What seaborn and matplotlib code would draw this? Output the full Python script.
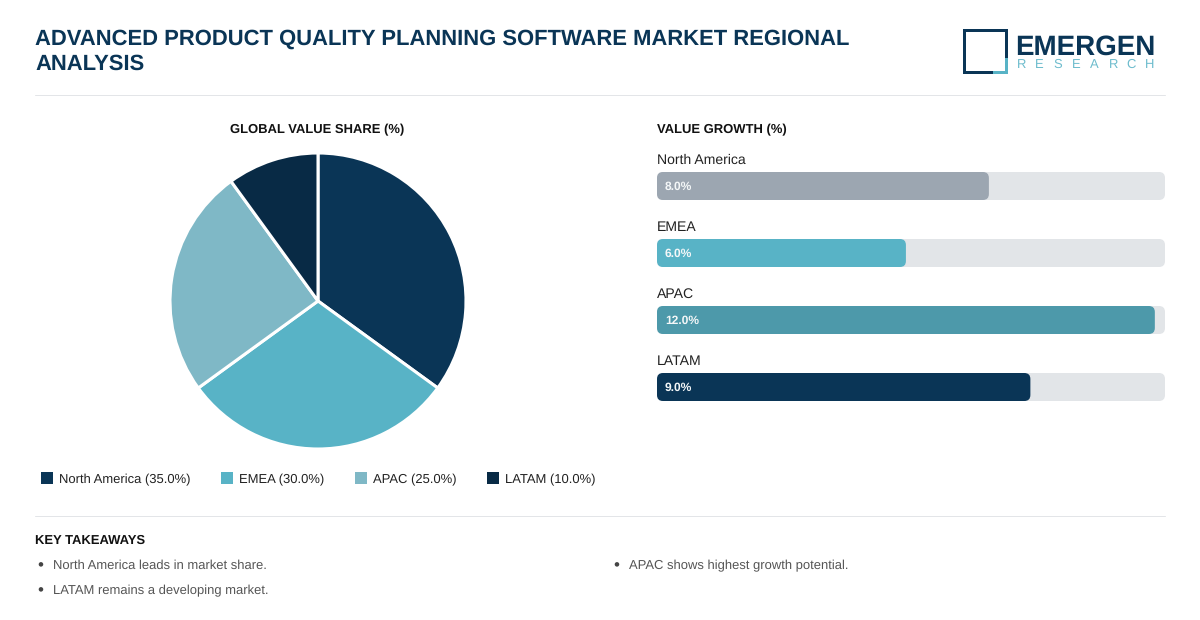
import matplotlib
matplotlib.use('Agg')
import matplotlib.pyplot as plt
from matplotlib.patches import FancyBboxPatch, Rectangle
import pandas as pd
import seaborn as sns

regions = ['North America', 'EMEA', 'APAC', 'LATAM']
share = [35.0, 30.0, 25.0, 10.0]
growth = [8.0, 6.0, 12.0, 9.0]
share_colors = ['#0a3556', '#58b3c6', '#7fb8c6', '#082a45']
growth_colors = ['#9ca6b1', '#58b3c6', '#4d99aa', '#0a3556']
track_color = '#e2e5e8'
growth_max = 12.245
title_lines = ['ADVANCED PRODUCT QUALITY PLANNING SOFTWARE MARKET REGIONAL', 'ANALYSIS']
takeaways_left = ['North America leads in market share.', 'LATAM remains a developing market.']
takeaways_right = ['APAC shows highest growth potential.']

W, H = 1200, 620
sns.set_theme(style='white')
plt.rcParams['font.family'] = ['Liberation Sans', 'DejaVu Sans']
plt.rcParams['text.hinting'] = 'no_hinting'


def px(size):
    return size * 0.72


def axes_px(fig, x0, y0, x1, y1):
    return fig.add_axes([x0 / W, 1 - y1 / H, (x1 - x0) / W, (y1 - y0) / H])


fig = plt.figure(figsize=(12, 6.2), dpi=100, facecolor='white')

# overlay in pixel coords for the text and rules
bg = fig.add_axes([0, 0, 1, 1])
bg.set_xlim(0, W)
bg.set_ylim(H, 0)
bg.axis('off')

for i, line in enumerate(title_lines):
    bg.text(35, 38.5 + i * 26, line, fontsize=px(21.97), fontweight='bold', color='#0a3556', va='center')
for y in [95.2, 516.2]:
    bg.plot([35, 1165], [y, y], color='#e3e5e8', lw=0.72)

# logo, square built from four bars so the cyan corner stays clean
for x, y, w, h, c in [(963, 29, 45, 3, '#0a3556'), (963, 29, 3, 45, '#0a3556'),
                      (963, 71, 30, 3, '#0a3556'), (1005, 29, 3, 29, '#0a3556'),
                      (993, 71, 15, 3, '#58b3c6'), (1005, 58, 3, 16, '#58b3c6')]:
    bg.add_patch(Rectangle((x, y), w, h, fc=c, ec='none'))
bg.text(1015.5, 47.5, 'EMERGEN', fontsize=px(27.8), fontweight='bold', color='#0a3556', va='center')
for i, ch in enumerate('RESEARCH'):
    bg.text(1017 + i * 18.3, 64.5, ch, fontsize=px(13), color='#6dbccd', va='center')

# pie
bg.text(317.5, 129.5, 'GLOBAL VALUE SHARE (%)', fontsize=px(13), fontweight='bold', color='#111111', ha='center', va='center')
ax_pie = axes_px(fig, 168, 151, 468, 451)
wedges, _ = ax_pie.pie(share, colors=share_colors, startangle=90, counterclock=False, radius=1,
                       wedgeprops={'edgecolor': 'white', 'linewidth': 2.2})
ax_pie.set_xlim(-150 / 148, 150 / 148)
ax_pie.set_ylim(-150 / 148, 150 / 148)

leg = bg.legend(wedges, [f'{r} ({s:.1f}%)' for r, s in zip(regions, share)], ncols=4, frameon=False,
                fontsize=px(13), loc='center left', bbox_to_anchor=(41 / W, 1 - 479 / H),
                bbox_transform=fig.transFigure, handlelength=0.92, handleheight=1.04,
                handletextpad=0.48, columnspacing=2.33, labelcolor='#222222', borderpad=0, borderaxespad=0)
for h in leg.legend_handles:
    h.set_edgecolor('none')
    h.set_linewidth(0)

# growth bars
bg.text(657, 129.5, 'VALUE GROWTH (%)', fontsize=px(13), fontweight='bold', color='#111111', va='center')
df = pd.DataFrame({'region': regions, 'growth': growth, 'track': [growth_max] * len(regions)})
ax_bar = axes_px(fig, 657, 172, 1165, 401)
bar_w = 28 / 67
sns.barplot(data=df, y='region', x='track', color=track_color, saturation=1, width=bar_w, ax=ax_bar)
sns.barplot(data=df, y='region', x='growth', hue='region', palette=growth_colors, saturation=1, legend=False,
            width=bar_w, ax=ax_bar)
ax_bar.set_xlim(0, growth_max)
ax_bar.set_ylim(3 + 14 / 67, -14 / 67)
ax_bar.axis('off')
ax_bar.patch.set_alpha(0)

# swap square bars for rounded ones
x_unit = 508 / growth_max
radius = 6 / x_unit
for bar in list(ax_bar.patches):
    x, y, w, h = bar.get_x(), bar.get_y(), bar.get_width(), bar.get_height()
    if w <= 0:
        bar.remove()
        continue
    ax_bar.add_patch(FancyBboxPatch((x, y), w, h, boxstyle=f'round,pad=0,rounding_size={radius}',
                                    mutation_aspect=x_unit / 67, fc=bar.get_facecolor(), ec='none',
                                    zorder=bar.get_zorder() + (0 if w >= growth_max else 1)))
    bar.remove()

for i, (r, g) in enumerate(zip(regions, growth)):
    bg.text(657, 160 + i * 67, r, fontsize=px(14), color='#222222', va='center')
    ax_bar.text(8 / x_unit, i + 0.015, f'{g:.1f}%', fontsize=px(12), fontweight='bold', color='#f4f7f8',
                va='center', zorder=5)

# takeaways
bg.text(35, 540.5, 'KEY TAKEAWAYS', fontsize=px(13), fontweight='bold', color='#111111', va='center')
for i, t in enumerate(takeaways_left):
    bg.text(40, 566 + i * 25, '\u2022', fontsize=px(17), color='#444444', va='center', ha='center')
    bg.text(53, 565.5 + i * 25, t, fontsize=px(13), color='#555555', va='center')
for i, t in enumerate(takeaways_right):
    bg.text(616, 566 + i * 25, '\u2022', fontsize=px(17), color='#444444', va='center', ha='center')
    bg.text(629, 565.5 + i * 25, t, fontsize=px(13), color='#555555', va='center')

fig.savefig('out.png', dpi=100, facecolor='white')
